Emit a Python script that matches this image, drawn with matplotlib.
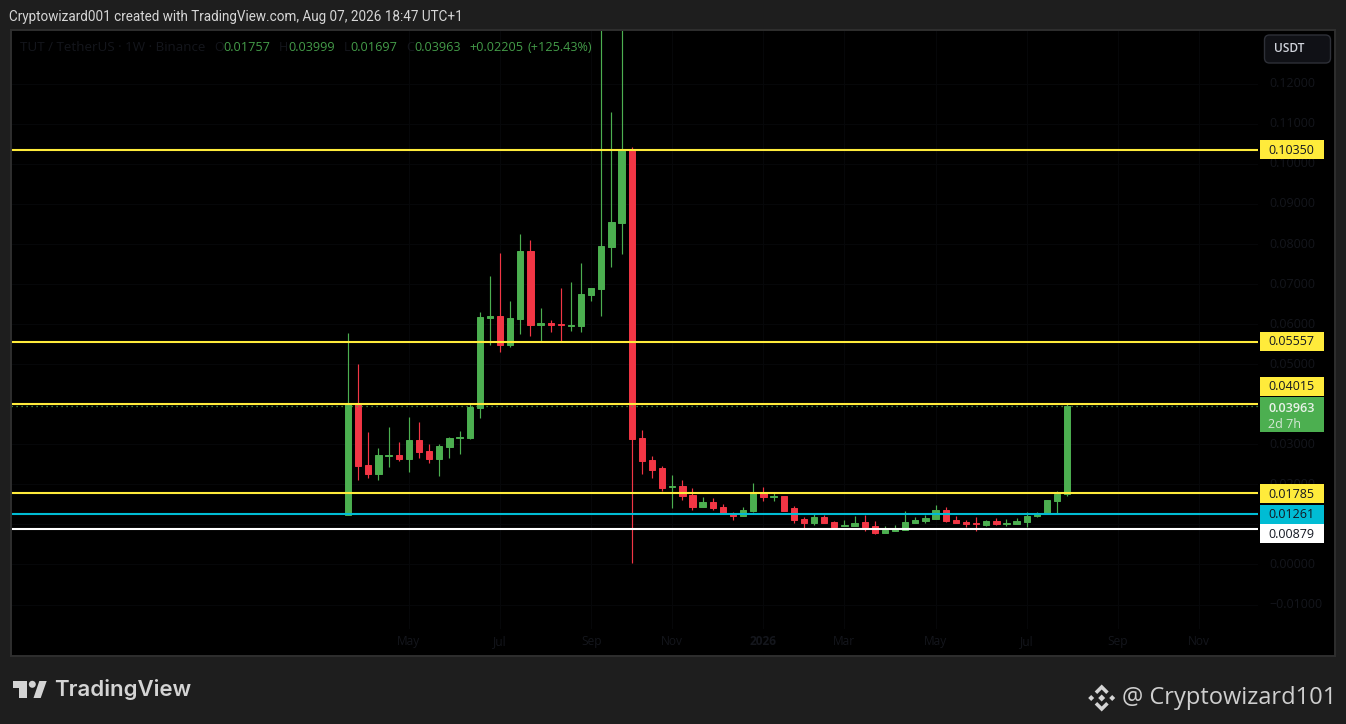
import matplotlib
matplotlib.use("Agg")
import matplotlib.pyplot as plt
from matplotlib.patches import Rectangle, Polygon, Circle, FancyBboxPatch
from matplotlib.transforms import ScaledTranslation

W, H = 1346, 724
# ---------- data ----------
opens = [.01223,.04000,.02470,.02246,.02695,.02720,.02620,.03094,.02844,.02620,.02919,.03144,
         .03144,.03892,.06138,.06188,.05464,.06113,.07834,.05963,.06013,.05995,.05946,.05938,
         .06712,.06861,.07909,.08508,.10354,.03144,.02595,.02395,.01929,.01946,.01722,.01422,
         .01547,.01422,.01297,.01198,.01347,.01821,.01679,.01697,.01397,.01123,.01023,.01173,
         .01048,.00956,.00948,.01048,.00948,.00798,.00848,.00873,.01023,.01073,.01123,.01372,
         .01098,.01048,.01023,.00973,.01073,.01008,.00998,.01048,.01198,.01272,.01572,.01757]
highs = [.05788,.04990,.03318,.02894,.03418,.03044,.03668,.03543,.02994,.02994,.03169,.03343,
         .04000,.06312,.07186,.07784,.06562,.08234,.08084,.06387,.06088,.06886,.07036,.07510,
         .06886,.14500,.11302,.14500,.10404,.03368,.02695,.02445,.02221,.02096,.01896,.01672,
         .01647,.01497,.01322,.01422,.02021,.01921,.01796,.01697,.01447,.01173,.01248,.01223,
         .01073,.01098,.01198,.01223,.01073,.00948,.00973,.01347,.01173,.01223,.01472,.01422,
         .01198,.01098,.01173,.01098,.01148,.01123,.01148,.01322,.01322,.01597,.01846,.03999]
lows = [.01223,.02096,.02146,.02096,.02420,.02570,.02320,.02645,.02520,.02196,.02645,.02769,
        .03119,.03643,.05464,.05314,.05414,.05763,.05689,.05564,.05813,.05539,.05838,.05813,
        .06562,.06188,.07410,.07735,.00025,.02270,.02146,.01846,.01397,.01597,.01372,.01422,
        .01372,.01272,.01098,.01198,.01322,.01572,.01572,.01347,.01023,.00898,.00973,.01023,
        .00898,.00948,.00948,.00848,.00773,.00798,.00848,.00873,.01023,.01023,.01123,.01048,
        .01023,.00923,.00848,.00948,.00973,.00948,.00998,.00923,.01173,.01272,.01297,.01697]
closes = [.04000,.02445,.02246,.02720,.02720,.02620,.03094,.02819,.02620,.02944,.03144,.03169,
          .03925,.06163,.06188,.05464,.06138,.07834,.05963,.06013,.05963,.05980,.05963,.06737,
          .06886,.07934,.08533,.10354,.03119,.02570,.02370,.01896,.01946,.01697,.01422,.01547,
          .01397,.01272,.01198,.01372,.01821,.01672,.01697,.01347,.01098,.01023,.01173,.01023,
          .00923,.00973,.01023,.00923,.00798,.00866,.00898,.01048,.01098,.01148,.01372,.01073,
          .01023,.00998,.01008,.01073,.00998,.01023,.01073,.01198,.01297,.01597,.01747,.03963]
time_ticks = [6, 15, 24, 32, 41, 49, 58, 67, 76, 84]
time_labels = ["May", "Jul", "Sep", "Nov", "2026", "Mar", "May", "Jul", "Sep", "Nov"]
price_ticks = [-0.01, 0.0, 0.01, 0.02, 0.03, 0.04, 0.05, 0.06, 0.07, 0.08, 0.09, 0.10, 0.11, 0.12]
yellow_levels = [0.10350, 0.05557, 0.04015, 0.01785]
cyan_level = 0.01261
white_level = 0.00879
last_price = 0.03963
legend_values = ["0.01757", "0.03999", "0.01697", "0.03963", "+0.02205", "(+125.43%)"]
legend_letters = ["O", "H", "L", "C"]

# ---------- style ----------
BG = "#1e1e1e"; GREEN = "#4caf50"; RED = "#f23645"; YEL = "#ffeb3b"; CY = "#00bcd4"
DIM = "#14161c"; FONT = "Open Sans"
plt.rcParams["font.family"] = [FONT, "DejaVu Sans"]

def fx(x): return x / W
def fy(y): return 1 - y / H

fig = plt.figure(figsize=(W / 100, H / 100), dpi=100, facecolor=BG)
fig.add_artist(Rectangle((fx(11), fy(656)), 1324 / W, 626 / H, transform=fig.transFigure,
                         facecolor="#000000", edgecolor="none", zorder=0))
ax = fig.add_axes([fx(11), fy(628.5), 1247 / W, 598 / H], facecolor="#000000", zorder=1)
ax.set_xlim(-33.28, 89.83)
ax.set_ylim(-0.01597, 0.13323)
for s in ax.spines.values():
    s.set_visible(False)
ax.set_xticks(time_ticks)
ax.set_xticklabels(time_labels, fontsize=8.6, color=DIM)
ax.get_xticklabels()[4].set_fontweight("bold")
ax.set_yticks(price_ticks)
ax.set_yticklabels([f"{p:.5f}".replace("-", "\u2212") for p in price_ticks], fontsize=9, color=DIM)
ax.yaxis.tick_right()
ax.tick_params(axis="y", length=0, pad=8)
ax.tick_params(axis="x", length=0, pad=5)
up = ScaledTranslation(0, 1.3 / 100, fig.dpi_scale_trans)
for lab in ax.get_yticklabels():
    lab.set_transform(lab.get_transform() + up)
ax.grid(True, color="#07080a", lw=0.7)
ax.set_axisbelow(True)

# candles
idx = range(len(opens))
for i in idx:
    c = GREEN if closes[i] >= opens[i] else RED
    ax.vlines(i, lows[i], highs[i], color=c, lw=0.85, zorder=3)
    ax.bar(i, closes[i] - opens[i], bottom=opens[i], width=0.62, color=c,
           edgecolor=c, lw=0.7, zorder=4)

# levels
for lv in yellow_levels:
    ax.axhline(lv, color=YEL, lw=1.5, zorder=5)
ax.axhline(cyan_level, color=CY, lw=1.5, zorder=5)
ax.axhline(white_level, color="#ffffff", lw=1.5, zorder=5)
ax.axhline(last_price, color=GREEN, lw=0.9, ls=(0, (1, 3)), zorder=5)

# panel border, above the axes so it is not covered
fig.add_artist(Rectangle((fx(11), fy(656)), 1324 / W, 626 / H, transform=fig.transFigure,
                         facecolor="none", edgecolor="#2f2f2f", lw=1.4, zorder=2))

# price labels
def tag(y0, y1, fc, text, tc="#131722", sub=None):
    fig.add_artist(Rectangle((fx(1260), fy(y1)), 64 / W, (y1 - y0) / H, transform=fig.transFigure,
                             facecolor=fc, edgecolor="none", zorder=3))
    if sub is None:
        fig.text(fx(1268.5), fy((y0 + y1) / 2 + 0.5), text, color=tc, fontsize=9, va="center", ha="left", zorder=4)
    else:
        fig.text(fx(1268.5), fy(y0 + 11), text, color=tc, fontsize=9, va="center", ha="left",
                 fontweight="semibold", zorder=4)
        fig.text(fx(1268.5), fy(y0 + 28), sub, color="#d5e8d6", fontsize=9, va="center", ha="left", zorder=4)

tag(140, 159, YEL, "0.10350")
tag(332, 351, YEL, "0.05557")
tag(377, 396, YEL, "0.04015")
tag(397, 432, GREEN, "0.03963", "#e8f2e8", "2d 7h")
tag(484, 503, YEL, "0.01785")
tag(505, 524, CY, "0.01261")
tag(524, 543, "#ffffff", "0.00879")

# USDT button
fig.add_artist(FancyBboxPatch((1264.5, H - 63), 66, 28, boxstyle="round,pad=0,rounding_size=5",
                              transform=None, facecolor="#101116", edgecolor="#2e3038", lw=1, zorder=3))
fig.text(fx(1274), fy(49), "USDT", color="#d1d4dc", fontsize=8.6, va="center", ha="left", zorder=4,
         fontweight="semibold")

# header and legend
fig.text(fx(9), fy(17), "Cryptowizard001 created with TradingView.com, Aug 07, 2026 18:47 UTC+1",
         color="#d6d6d6", fontsize=9.75, va="center", ha="left", family="Roboto")
fig.text(fx(20), fy(47.5), "TUT / TetherUS \u00b7 1W \u00b7 Binance", color=DIM, fontsize=9.6, va="center", zorder=4)
for x, t in zip([214, 279, 344, 406], legend_letters):
    fig.text(fx(x), fy(47.5), t, color=DIM, fontsize=9, va="center", zorder=4)
for x, t in zip([223, 288, 350, 414, 469, 528], legend_values):
    fig.text(fx(x), fy(47.5), t, color="#449c49", fontsize=9.1, va="center", zorder=4)

# footer: TradingView logo
LOGO = "#d4d4d4"
def poly(pts, color=LOGO):
    fig.add_artist(Polygon([(fx(x), fy(y)) for x, y in pts], closed=True, transform=fig.transFigure,
                           facecolor=color, edgecolor="none", zorder=3))

poly([(13.3, 681), (26.7, 681), (26.7, 698), (19.3, 698), (19.3, 688.3), (13.3, 688.3)])
fig.add_artist(Circle((32.3, H - 684.3), 3.5, transform=None, facecolor=LOGO, edgecolor="none", zorder=3))
poly([(33.5, 698), (39.3, 681), (46.7, 681), (40.7, 698)])
fig.text(fx(54.5), fy(690), "TradingView", color=LOGO, fontsize=16, fontweight="semibold",
         va="center", ha="left", family="Inter")

# footer: Binance mark and handle
cx, cy = 1101.7, 698
def ch(dx, dy):
    return (cx + dx, cy + dy)
poly([ch(0, -13.5), ch(7, -6.5), ch(4.5, -4), ch(0, -8.5), ch(-4.5, -4), ch(-7, -6.5)])
poly([ch(0, 13.5), ch(7, 6.5), ch(4.5, 4), ch(0, 8.5), ch(-4.5, 4), ch(-7, 6.5)])
poly([ch(-13.5, 0), ch(-10.5, -3), ch(-7.5, 0), ch(-10.5, 3)])
poly([ch(13.5, 0), ch(10.5, -3), ch(7.5, 0), ch(10.5, 3)])
poly([ch(0, -3.5), ch(3.5, 0), ch(0, 3.5), ch(-3.5, 0)])
fig.text(fx(1122), fy(698.5), "@ Cryptowizard101", color="#cfcfcf", fontsize=17, va="center", ha="left")

fig.savefig("out.png", dpi=100, facecolor=BG)
